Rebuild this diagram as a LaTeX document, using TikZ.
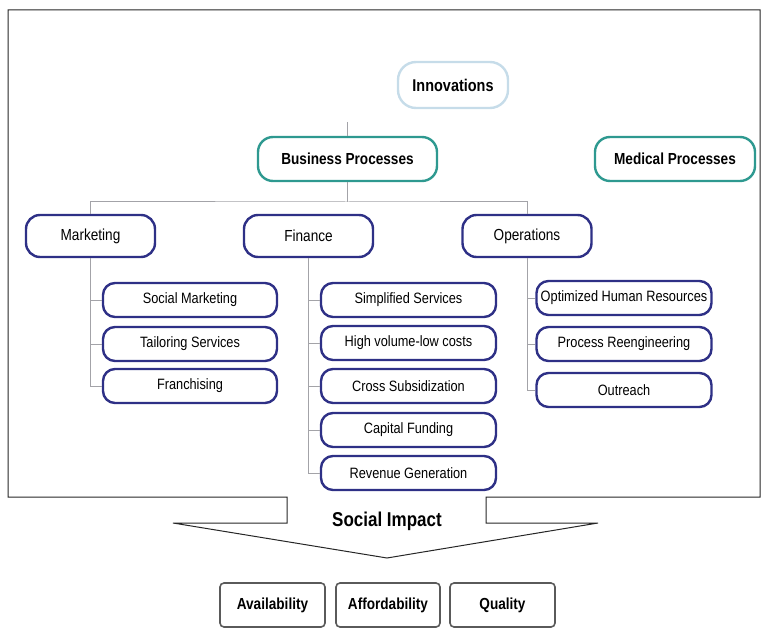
\documentclass[tikz,border=0pt]{standalone}
\usepackage{fontspec}
\setmainfont{Liberation Sans}[FakeStretch=0.85]
\definecolor{navy}{HTML}{2E3086}
\definecolor{teal2}{HTML}{2E9990}
\definecolor{lblue}{HTML}{C6DCE9}
\definecolor{conn}{HTML}{A3A3A8}
\definecolor{gbox}{HTML}{5A5A5A}
\begin{document}
\begin{tikzpicture}[x=1pt,y=-1pt,
  pill/.style={draw=navy,line width=2.4pt,fill=white,rounded corners=14pt,inner sep=0pt,font=\fontsize{16}{18}\selectfont},
  topbox/.style={pill,minimum width=129pt,minimum height=42pt},
  childbox/.style={pill,minimum width=175pt,minimum height=34pt,rounded corners=12pt,font=\fontsize{15}{17}\selectfont},
  procbox/.style={pill,draw=teal2,minimum height=44pt,rounded corners=15pt,font=\bfseries\fontsize{16}{18}\selectfont},
  impactbox/.style={draw=gbox,line width=1.6pt,fill=white,rounded corners=4pt,minimum width=105pt,minimum height=44pt,inner sep=0pt,font=\bfseries\fontsize{16}{18}\selectfont},
  link/.style={draw=conn,line width=1pt}]
\useasboundingbox (0,0) rectangle (768,636);
% frame and arrow
\draw[line width=1pt,black!85] (287,497) -- (8,497) -- (8,10) -- (760,10) -- (760,497) -- (486,497) -- (486,523) -- (598,523) -- (387,558) -- (173,523) -- (287,523) -- cycle;
\node[font=\bfseries\fontsize{20}{22}\selectfont] (si) at (387,521) {Social Impact};
% top
\node[pill,draw=lblue,minimum width=110pt,minimum height=46pt,rounded corners=18pt,font=\bfseries\fontsize{17}{19}\selectfont] (inn) at (453,85) {Innovations};
\node[procbox,minimum width=179pt] (bp) at (347.5,159) {Business Processes};
\node[procbox,minimum width=160pt] (mp) at (675,159) {Medical Processes};
\coordinate (bptop) at (347.5,122);
\draw[link] (bptop) -- (bp.north);
% level 2
\node[topbox] (mk) at (90.5,236) {Marketing};
\node[topbox] (fi) at (308.5,236) {Finance};
\node[topbox] (op) at (527,236) {Operations};
\coordinate (hb) at (347.5,202);
\draw[link] (bp.south) -- (hb);
\draw[link] (mk.north) |- (hb) -| (op.north);
% marketing children
\node[childbox,minimum width=174pt] (sm) at (190,300) {Social Marketing};
\node[childbox,minimum width=174pt] (ts) at (190,344) {Tailoring Services};
\node[childbox,minimum width=174pt] (fr) at (190,386) {Franchising};
\draw[link] (mk.south) |- (fr.west);
\draw[link] (mk.south |- sm.west) -- (sm.west);
\draw[link] (mk.south |- ts.west) -- (ts.west);
% finance children
\node[childbox] (ss) at (408.5,300) {Simplified Services};
\node[childbox] (hv) at (408.5,343) {High volume-low costs};
\node[childbox] (cs) at (408.5,386) {Cross Subsidization};
\node[childbox] (cf) at (408.5,430) {Capital Funding};
\node[childbox] (rg) at (408.5,473) {Revenue Generation};
\draw[link] (fi.south) |- (rg.west);
\foreach \n in {ss,hv,cs,cf} \draw[link] (fi.south |- \n.west) -- (\n.west);
% operations children
\node[childbox] (oh) at (624,298) {Optimized Human Resources};
\node[childbox] (pr) at (624,344) {Process Reengineering};
\node[childbox] (ou) at (624,390) {Outreach};
\draw[link] (op.south) |- (ou.west);
\draw[link] (op.south |- oh.west) -- (oh.west);
\draw[link] (op.south |- pr.west) -- (pr.west);
% impact boxes
\node[impactbox] (av) at (272.5,605) {Availability};
\node[impactbox,minimum width=104pt] (af) at (388,605) {Affordability};
\node[impactbox] (qu) at (502.5,605) {Quality};
\end{tikzpicture}
\end{document}
